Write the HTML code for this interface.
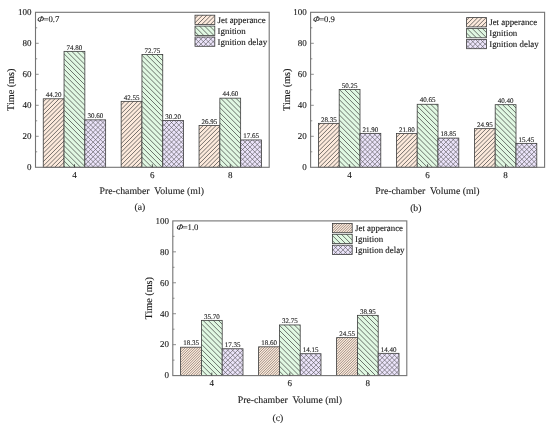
<!DOCTYPE html>
<html lang="en"><head><meta charset="utf-8"><title>Figure</title>
<style>html,body{margin:0;padding:0;background:#fff}svg{display:block}text{font-family:"Liberation Serif", "DejaVu Serif", serif;fill:#1a1a1a;text-rendering:geometricPrecision;stroke:#1a1a1a;stroke-width:0.11px}</style></head><body>
<svg width="550" height="428" viewBox="0 0 550 428">
<rect width="550" height="428" fill="#fff"/>
<defs><filter id="sb" x="-5%" y="-5%" width="110%" height="110%"><feGaussianBlur stdDeviation="0.3"/></filter></defs>
<g id="plot-a">
<rect x="43.25" y="98.79" width="20.80" height="68.51" fill="#fdeadc"/>
<clipPath id="c1"><rect x="43.25" y="98.79" width="20.80" height="68.51"/></clipPath><g clip-path="url(#c1)"><path d="M42.25 98.66L65.05 75.86M42.25 102.93L65.05 80.13M42.25 107.20L65.05 84.40M42.25 111.47L65.05 88.67M42.25 115.74L65.05 92.94M42.25 120.01L65.05 97.21M42.25 124.28L65.05 101.48M42.25 128.55L65.05 105.75M42.25 132.82L65.05 110.02M42.25 137.09L65.05 114.29M42.25 141.36L65.05 118.56M42.25 145.63L65.05 122.83M42.25 149.90L65.05 127.10M42.25 154.17L65.05 131.37M42.25 158.44L65.05 135.64M42.25 162.71L65.05 139.91M42.25 166.98L65.05 144.18M42.25 171.25L65.05 148.45M42.25 175.52L65.05 152.72M42.25 179.79L65.05 156.99M42.25 184.06L65.05 161.26M42.25 188.33L65.05 165.53M42.25 192.60L65.05 169.80" filter="url(#sb)" fill="none" stroke="#3e3e3e" stroke-width="0.72"/></g>
<rect x="43.25" y="98.79" width="20.80" height="68.51" fill="none" stroke="#3c3c3c" stroke-width="0.8"/>
<text x="53.65" y="96.99" font-size="7" text-anchor="middle">44.20</text>
<rect x="64.05" y="51.36" width="20.80" height="115.94" fill="#e0f8e2"/>
<clipPath id="c2"><rect x="64.05" y="51.36" width="20.80" height="115.94"/></clipPath><g clip-path="url(#c2)"><path d="M63.05 27.35L85.85 50.15M63.05 32.45L85.85 55.25M63.05 37.55L85.85 60.35M63.05 42.65L85.85 65.45M63.05 47.75L85.85 70.55M63.05 52.85L85.85 75.65M63.05 57.95L85.85 80.75M63.05 63.05L85.85 85.85M63.05 68.15L85.85 90.95M63.05 73.25L85.85 96.05M63.05 78.35L85.85 101.15M63.05 83.45L85.85 106.25M63.05 88.55L85.85 111.35M63.05 93.65L85.85 116.45M63.05 98.75L85.85 121.55M63.05 103.85L85.85 126.65M63.05 108.95L85.85 131.75M63.05 114.05L85.85 136.85M63.05 119.15L85.85 141.95M63.05 124.25L85.85 147.05M63.05 129.35L85.85 152.15M63.05 134.45L85.85 157.25M63.05 139.55L85.85 162.35M63.05 144.65L85.85 167.45M63.05 149.75L85.85 172.55M63.05 154.85L85.85 177.65M63.05 159.95L85.85 182.75M63.05 165.05L85.85 187.85M63.05 170.15L85.85 192.95" filter="url(#sb)" fill="none" stroke="#3e3e3e" stroke-width="0.72"/></g>
<rect x="64.05" y="51.36" width="20.80" height="115.94" fill="none" stroke="#3c3c3c" stroke-width="0.8"/>
<text x="74.45" y="49.56" font-size="7" text-anchor="middle">74.80</text>
<rect x="84.85" y="119.87" width="20.80" height="47.43" fill="#ebe3fa"/>
<clipPath id="c3"><rect x="84.85" y="119.87" width="20.80" height="47.43"/></clipPath><g clip-path="url(#c3)"><path d="M83.85 117.05L106.65 94.25M83.85 121.95L106.65 99.15M83.85 126.85L106.65 104.05M83.85 131.75L106.65 108.95M83.85 136.65L106.65 113.85M83.85 141.55L106.65 118.75M83.85 146.45L106.65 123.65M83.85 151.35L106.65 128.55M83.85 156.25L106.65 133.45M83.85 161.15L106.65 138.35M83.85 166.05L106.65 143.25M83.85 170.95L106.65 148.15M83.85 175.85L106.65 153.05M83.85 180.75L106.65 157.95M83.85 185.65L106.65 162.85M83.85 190.55L106.65 167.75M83.85 93.65L106.65 116.45M83.85 98.55L106.65 121.35M83.85 103.45L106.65 126.25M83.85 108.35L106.65 131.15M83.85 113.25L106.65 136.05M83.85 118.15L106.65 140.95M83.85 123.05L106.65 145.85M83.85 127.95L106.65 150.75M83.85 132.85L106.65 155.65M83.85 137.75L106.65 160.55M83.85 142.65L106.65 165.45M83.85 147.55L106.65 170.35M83.85 152.45L106.65 175.25M83.85 157.35L106.65 180.15M83.85 162.25L106.65 185.05M83.85 167.15L106.65 189.95" filter="url(#sb)" fill="none" stroke="#4c4c4c" stroke-width="0.58"/></g>
<rect x="84.85" y="119.87" width="20.80" height="47.43" fill="none" stroke="#3c3c3c" stroke-width="0.8"/>
<text x="95.25" y="118.07" font-size="7" text-anchor="middle">30.60</text>
<rect x="121.15" y="101.35" width="20.80" height="65.95" fill="#fdeadc"/>
<clipPath id="c4"><rect x="121.15" y="101.35" width="20.80" height="65.95"/></clipPath><g clip-path="url(#c4)"><path d="M120.15 101.89L142.95 79.09M120.15 106.16L142.95 83.36M120.15 110.43L142.95 87.63M120.15 114.70L142.95 91.90M120.15 118.97L142.95 96.17M120.15 123.24L142.95 100.44M120.15 127.51L142.95 104.71M120.15 131.78L142.95 108.98M120.15 136.05L142.95 113.25M120.15 140.32L142.95 117.52M120.15 144.59L142.95 121.79M120.15 148.86L142.95 126.06M120.15 153.13L142.95 130.33M120.15 157.40L142.95 134.60M120.15 161.67L142.95 138.87M120.15 165.94L142.95 143.14M120.15 170.21L142.95 147.41M120.15 174.48L142.95 151.68M120.15 178.75L142.95 155.95M120.15 183.02L142.95 160.22M120.15 187.29L142.95 164.49M120.15 191.56L142.95 168.76" filter="url(#sb)" fill="none" stroke="#3e3e3e" stroke-width="0.72"/></g>
<rect x="121.15" y="101.35" width="20.80" height="65.95" fill="none" stroke="#3c3c3c" stroke-width="0.8"/>
<text x="131.55" y="99.55" font-size="7" text-anchor="middle">42.55</text>
<rect x="141.95" y="54.54" width="20.80" height="112.76" fill="#e0f8e2"/>
<clipPath id="c5"><rect x="141.95" y="54.54" width="20.80" height="112.76"/></clipPath><g clip-path="url(#c5)"><path d="M140.95 28.75L163.75 51.55M140.95 33.85L163.75 56.65M140.95 38.95L163.75 61.75M140.95 44.05L163.75 66.85M140.95 49.15L163.75 71.95M140.95 54.25L163.75 77.05M140.95 59.35L163.75 82.15M140.95 64.45L163.75 87.25M140.95 69.55L163.75 92.35M140.95 74.65L163.75 97.45M140.95 79.75L163.75 102.55M140.95 84.85L163.75 107.65M140.95 89.95L163.75 112.75M140.95 95.05L163.75 117.85M140.95 100.15L163.75 122.95M140.95 105.25L163.75 128.05M140.95 110.35L163.75 133.15M140.95 115.45L163.75 138.25M140.95 120.55L163.75 143.35M140.95 125.65L163.75 148.45M140.95 130.75L163.75 153.55M140.95 135.85L163.75 158.65M140.95 140.95L163.75 163.75M140.95 146.05L163.75 168.85M140.95 151.15L163.75 173.95M140.95 156.25L163.75 179.05M140.95 161.35L163.75 184.15M140.95 166.45L163.75 189.25" filter="url(#sb)" fill="none" stroke="#3e3e3e" stroke-width="0.72"/></g>
<rect x="141.95" y="54.54" width="20.80" height="112.76" fill="none" stroke="#3c3c3c" stroke-width="0.8"/>
<text x="152.35" y="52.74" font-size="7" text-anchor="middle">72.75</text>
<rect x="162.75" y="120.49" width="20.80" height="46.81" fill="#ebe3fa"/>
<clipPath id="c6"><rect x="162.75" y="120.49" width="20.80" height="46.81"/></clipPath><g clip-path="url(#c6)"><path d="M161.75 117.55L184.55 94.75M161.75 122.45L184.55 99.65M161.75 127.35L184.55 104.55M161.75 132.25L184.55 109.45M161.75 137.15L184.55 114.35M161.75 142.05L184.55 119.25M161.75 146.95L184.55 124.15M161.75 151.85L184.55 129.05M161.75 156.75L184.55 133.95M161.75 161.65L184.55 138.85M161.75 166.55L184.55 143.75M161.75 171.45L184.55 148.65M161.75 176.35L184.55 153.55M161.75 181.25L184.55 158.45M161.75 186.15L184.55 163.35M161.75 191.05L184.55 168.25M161.75 98.05L184.55 120.85M161.75 102.95L184.55 125.75M161.75 107.85L184.55 130.65M161.75 112.75L184.55 135.55M161.75 117.65L184.55 140.45M161.75 122.55L184.55 145.35M161.75 127.45L184.55 150.25M161.75 132.35L184.55 155.15M161.75 137.25L184.55 160.05M161.75 142.15L184.55 164.95M161.75 147.05L184.55 169.85M161.75 151.95L184.55 174.75M161.75 156.85L184.55 179.65M161.75 161.75L184.55 184.55M161.75 166.65L184.55 189.45" filter="url(#sb)" fill="none" stroke="#4c4c4c" stroke-width="0.58"/></g>
<rect x="162.75" y="120.49" width="20.80" height="46.81" fill="none" stroke="#3c3c3c" stroke-width="0.8"/>
<text x="173.15" y="118.69" font-size="7" text-anchor="middle">30.20</text>
<rect x="199.05" y="125.53" width="20.80" height="41.77" fill="#fdeadc"/>
<clipPath id="c7"><rect x="199.05" y="125.53" width="20.80" height="41.77"/></clipPath><g clip-path="url(#c7)"><path d="M198.05 126.47L220.85 103.67M198.05 130.74L220.85 107.94M198.05 135.01L220.85 112.21M198.05 139.28L220.85 116.48M198.05 143.55L220.85 120.75M198.05 147.82L220.85 125.02M198.05 152.09L220.85 129.29M198.05 156.36L220.85 133.56M198.05 160.63L220.85 137.83M198.05 164.90L220.85 142.10M198.05 169.17L220.85 146.37M198.05 173.44L220.85 150.64M198.05 177.71L220.85 154.91M198.05 181.98L220.85 159.18M198.05 186.25L220.85 163.45M198.05 190.52L220.85 167.72" filter="url(#sb)" fill="none" stroke="#3e3e3e" stroke-width="0.72"/></g>
<rect x="199.05" y="125.53" width="20.80" height="41.77" fill="none" stroke="#3c3c3c" stroke-width="0.8"/>
<text x="209.45" y="123.73" font-size="7" text-anchor="middle">26.95</text>
<rect x="219.85" y="98.17" width="20.80" height="69.13" fill="#e0f8e2"/>
<clipPath id="c8"><rect x="219.85" y="98.17" width="20.80" height="69.13"/></clipPath><g clip-path="url(#c8)"><path d="M218.85 76.05L241.65 98.85M218.85 81.15L241.65 103.95M218.85 86.25L241.65 109.05M218.85 91.35L241.65 114.15M218.85 96.45L241.65 119.25M218.85 101.55L241.65 124.35M218.85 106.65L241.65 129.45M218.85 111.75L241.65 134.55M218.85 116.85L241.65 139.65M218.85 121.95L241.65 144.75M218.85 127.05L241.65 149.85M218.85 132.15L241.65 154.95M218.85 137.25L241.65 160.05M218.85 142.35L241.65 165.15M218.85 147.45L241.65 170.25M218.85 152.55L241.65 175.35M218.85 157.65L241.65 180.45M218.85 162.75L241.65 185.55M218.85 167.85L241.65 190.65" filter="url(#sb)" fill="none" stroke="#3e3e3e" stroke-width="0.72"/></g>
<rect x="219.85" y="98.17" width="20.80" height="69.13" fill="none" stroke="#3c3c3c" stroke-width="0.8"/>
<text x="230.25" y="96.37" font-size="7" text-anchor="middle">44.60</text>
<rect x="240.65" y="139.94" width="20.80" height="27.36" fill="#ebe3fa"/>
<clipPath id="c9"><rect x="240.65" y="139.94" width="20.80" height="27.36"/></clipPath><g clip-path="url(#c9)"><path d="M239.65 137.65L262.45 114.85M239.65 142.55L262.45 119.75M239.65 147.45L262.45 124.65M239.65 152.35L262.45 129.55M239.65 157.25L262.45 134.45M239.65 162.15L262.45 139.35M239.65 167.05L262.45 144.25M239.65 171.95L262.45 149.15M239.65 176.85L262.45 154.05M239.65 181.75L262.45 158.95M239.65 186.65L262.45 163.85M239.65 191.55L262.45 168.75M239.65 117.15L262.45 139.95M239.65 122.05L262.45 144.85M239.65 126.95L262.45 149.75M239.65 131.85L262.45 154.65M239.65 136.75L262.45 159.55M239.65 141.65L262.45 164.45M239.65 146.55L262.45 169.35M239.65 151.45L262.45 174.25M239.65 156.35L262.45 179.15M239.65 161.25L262.45 184.05M239.65 166.15L262.45 188.95M239.65 171.05L262.45 193.85" filter="url(#sb)" fill="none" stroke="#4c4c4c" stroke-width="0.58"/></g>
<rect x="240.65" y="139.94" width="20.80" height="27.36" fill="none" stroke="#3c3c3c" stroke-width="0.8"/>
<text x="251.05" y="138.14" font-size="7" text-anchor="middle">17.65</text>
<rect x="35.50" y="12.30" width="233.70" height="155.00" fill="none" stroke="#747474" stroke-width="1.1"/>
<text x="31.60" y="170.35" font-size="9" text-anchor="end">0</text>
<line x1="35.50" y1="151.80" x2="37.20" y2="151.80" stroke="#747474" stroke-width="0.8"/>
<line x1="35.50" y1="136.30" x2="38.70" y2="136.30" stroke="#747474" stroke-width="0.8"/>
<text x="31.60" y="139.35" font-size="9" text-anchor="end">20</text>
<line x1="35.50" y1="120.80" x2="37.20" y2="120.80" stroke="#747474" stroke-width="0.8"/>
<line x1="35.50" y1="105.30" x2="38.70" y2="105.30" stroke="#747474" stroke-width="0.8"/>
<text x="31.60" y="108.35" font-size="9" text-anchor="end">40</text>
<line x1="35.50" y1="89.80" x2="37.20" y2="89.80" stroke="#747474" stroke-width="0.8"/>
<line x1="35.50" y1="74.30" x2="38.70" y2="74.30" stroke="#747474" stroke-width="0.8"/>
<text x="31.60" y="77.35" font-size="9" text-anchor="end">60</text>
<line x1="35.50" y1="58.80" x2="37.20" y2="58.80" stroke="#747474" stroke-width="0.8"/>
<line x1="35.50" y1="43.30" x2="38.70" y2="43.30" stroke="#747474" stroke-width="0.8"/>
<text x="31.60" y="46.35" font-size="9" text-anchor="end">80</text>
<line x1="35.50" y1="27.80" x2="37.20" y2="27.80" stroke="#747474" stroke-width="0.8"/>
<text x="31.60" y="15.35" font-size="9" text-anchor="end">100</text>
<line x1="74.45" y1="167.30" x2="74.45" y2="164.30" stroke="#3a3a3a" stroke-width="0.9"/>
<text x="74.45" y="178.00" font-size="9" text-anchor="middle">4</text>
<line x1="152.35" y1="167.30" x2="152.35" y2="164.30" stroke="#3a3a3a" stroke-width="0.9"/>
<text x="152.35" y="178.00" font-size="9" text-anchor="middle">6</text>
<line x1="230.25" y1="167.30" x2="230.25" y2="164.30" stroke="#3a3a3a" stroke-width="0.9"/>
<text x="230.25" y="178.00" font-size="9" text-anchor="middle">8</text>
<text x="151.75" y="193.70" font-size="9.8" text-anchor="middle" xml:space="preserve">Pre-chamber  Volume (ml)</text>
<text transform="translate(14.00 89.80) rotate(-90)" font-size="10.2" text-anchor="middle">Time (ms)</text>
<text x="139.85" y="210.20" font-size="9.7" text-anchor="middle">(a)</text>
<text transform="translate(36.80 22.00) skewX(-12)" font-size="8.7" font-style="italic">Φ</text>
<text x="43.50" y="22.00" font-size="8.7">=0.7</text>
<rect x="195.00" y="15.20" width="19.8" height="9.3" fill="#fdeadc"/>
<clipPath id="c10"><rect x="195.00" y="15.20" width="19.80" height="9.30"/></clipPath><g clip-path="url(#c10)"><path d="M194.00 15.23L215.80 -6.57M194.00 19.50L215.80 -2.30M194.00 23.77L215.80 1.97M194.00 28.04L215.80 6.24M194.00 32.31L215.80 10.51M194.00 36.58L215.80 14.78M194.00 40.85L215.80 19.05M194.00 45.12L215.80 23.32M194.00 49.39L215.80 27.59" filter="url(#sb)" fill="none" stroke="#3e3e3e" stroke-width="0.72"/></g>
<rect x="195.00" y="15.20" width="19.8" height="9.3" fill="none" stroke="#3c3c3c" stroke-width="0.8"/>
<text x="217.60" y="22.80" font-size="8.9">Jet apperance</text>
<rect x="195.00" y="26.10" width="19.8" height="9.3" fill="#e0f8e2"/>
<clipPath id="c11"><rect x="195.00" y="26.10" width="19.80" height="9.30"/></clipPath><g clip-path="url(#c11)"><path d="M194.00 0.20L215.80 22.00M194.00 5.30L215.80 27.10M194.00 10.40L215.80 32.20M194.00 15.50L215.80 37.30M194.00 20.60L215.80 42.40M194.00 25.70L215.80 47.50M194.00 30.80L215.80 52.60M194.00 35.90L215.80 57.70" filter="url(#sb)" fill="none" stroke="#3e3e3e" stroke-width="0.72"/></g>
<rect x="195.00" y="26.10" width="19.8" height="9.3" fill="none" stroke="#3c3c3c" stroke-width="0.8"/>
<text x="217.60" y="33.70" font-size="8.9">Ignition</text>
<rect x="195.00" y="37.00" width="19.8" height="9.3" fill="#ebe3fa"/>
<clipPath id="c12"><rect x="195.00" y="37.00" width="19.80" height="9.30"/></clipPath><g clip-path="url(#c12)"><path d="M194.00 36.30L215.80 14.50M194.00 41.20L215.80 19.40M194.00 46.10L215.80 24.30M194.00 51.00L215.80 29.20M194.00 55.90L215.80 34.10M194.00 60.80L215.80 39.00M194.00 65.70L215.80 43.90M194.00 70.60L215.80 48.80M194.00 12.70L215.80 34.50M194.00 17.60L215.80 39.40M194.00 22.50L215.80 44.30M194.00 27.40L215.80 49.20M194.00 32.30L215.80 54.10M194.00 37.20L215.80 59.00M194.00 42.10L215.80 63.90M194.00 47.00L215.80 68.80" filter="url(#sb)" fill="none" stroke="#4c4c4c" stroke-width="0.58"/></g>
<rect x="195.00" y="37.00" width="19.8" height="9.3" fill="none" stroke="#3c3c3c" stroke-width="0.8"/>
<text x="217.60" y="44.60" font-size="8.9">Ignition delay</text>
</g>
<g id="plot-b">
<rect x="318.40" y="123.36" width="20.80" height="43.94" fill="#fdeadc"/>
<clipPath id="c13"><rect x="318.40" y="123.36" width="20.80" height="43.94"/></clipPath><g clip-path="url(#c13)"><path d="M317.40 122.41L340.20 99.61M317.40 126.68L340.20 103.88M317.40 130.95L340.20 108.15M317.40 135.22L340.20 112.42M317.40 139.49L340.20 116.69M317.40 143.76L340.20 120.96M317.40 148.03L340.20 125.23M317.40 152.30L340.20 129.50M317.40 156.57L340.20 133.77M317.40 160.84L340.20 138.04M317.40 165.11L340.20 142.31M317.40 169.38L340.20 146.58M317.40 173.65L340.20 150.85M317.40 177.92L340.20 155.12M317.40 182.19L340.20 159.39M317.40 186.46L340.20 163.66M317.40 190.73L340.20 167.93" filter="url(#sb)" fill="none" stroke="#3e3e3e" stroke-width="0.72"/></g>
<rect x="318.40" y="123.36" width="20.80" height="43.94" fill="none" stroke="#3c3c3c" stroke-width="0.8"/>
<text x="328.80" y="121.56" font-size="7" text-anchor="middle">28.35</text>
<rect x="339.20" y="89.41" width="20.80" height="77.89" fill="#e0f8e2"/>
<clipPath id="c14"><rect x="339.20" y="89.41" width="20.80" height="77.89"/></clipPath><g clip-path="url(#c14)"><path d="M338.20 62.80L361.00 85.60M338.20 67.90L361.00 90.70M338.20 73.00L361.00 95.80M338.20 78.10L361.00 100.90M338.20 83.20L361.00 106.00M338.20 88.30L361.00 111.10M338.20 93.40L361.00 116.20M338.20 98.50L361.00 121.30M338.20 103.60L361.00 126.40M338.20 108.70L361.00 131.50M338.20 113.80L361.00 136.60M338.20 118.90L361.00 141.70M338.20 124.00L361.00 146.80M338.20 129.10L361.00 151.90M338.20 134.20L361.00 157.00M338.20 139.30L361.00 162.10M338.20 144.40L361.00 167.20M338.20 149.50L361.00 172.30M338.20 154.60L361.00 177.40M338.20 159.70L361.00 182.50M338.20 164.80L361.00 187.60M338.20 169.90L361.00 192.70" filter="url(#sb)" fill="none" stroke="#3e3e3e" stroke-width="0.72"/></g>
<rect x="339.20" y="89.41" width="20.80" height="77.89" fill="none" stroke="#3c3c3c" stroke-width="0.8"/>
<text x="349.60" y="87.61" font-size="7" text-anchor="middle">50.25</text>
<rect x="360.00" y="133.36" width="20.80" height="33.94" fill="#ebe3fa"/>
<clipPath id="c15"><rect x="360.00" y="133.36" width="20.80" height="33.94"/></clipPath><g clip-path="url(#c15)"><path d="M359.00 131.00L381.80 108.20M359.00 135.90L381.80 113.10M359.00 140.80L381.80 118.00M359.00 145.70L381.80 122.90M359.00 150.60L381.80 127.80M359.00 155.50L381.80 132.70M359.00 160.40L381.80 137.60M359.00 165.30L381.80 142.50M359.00 170.20L381.80 147.40M359.00 175.10L381.80 152.30M359.00 180.00L381.80 157.20M359.00 184.90L381.80 162.10M359.00 189.80L381.80 167.00M359.00 109.10L381.80 131.90M359.00 114.00L381.80 136.80M359.00 118.90L381.80 141.70M359.00 123.80L381.80 146.60M359.00 128.70L381.80 151.50M359.00 133.60L381.80 156.40M359.00 138.50L381.80 161.30M359.00 143.40L381.80 166.20M359.00 148.30L381.80 171.10M359.00 153.20L381.80 176.00M359.00 158.10L381.80 180.90M359.00 163.00L381.80 185.80M359.00 167.90L381.80 190.70" filter="url(#sb)" fill="none" stroke="#4c4c4c" stroke-width="0.58"/></g>
<rect x="360.00" y="133.36" width="20.80" height="33.94" fill="none" stroke="#3c3c3c" stroke-width="0.8"/>
<text x="370.40" y="131.56" font-size="7" text-anchor="middle">21.90</text>
<rect x="396.40" y="133.51" width="20.80" height="33.79" fill="#fdeadc"/>
<clipPath id="c16"><rect x="396.40" y="133.51" width="20.80" height="33.79"/></clipPath><g clip-path="url(#c16)"><path d="M395.40 134.08L418.20 111.28M395.40 138.35L418.20 115.55M395.40 142.62L418.20 119.82M395.40 146.89L418.20 124.09M395.40 151.16L418.20 128.36M395.40 155.43L418.20 132.63M395.40 159.70L418.20 136.90M395.40 163.97L418.20 141.17M395.40 168.24L418.20 145.44M395.40 172.51L418.20 149.71M395.40 176.78L418.20 153.98M395.40 181.05L418.20 158.25M395.40 185.32L418.20 162.52M395.40 189.59L418.20 166.79" filter="url(#sb)" fill="none" stroke="#3e3e3e" stroke-width="0.72"/></g>
<rect x="396.40" y="133.51" width="20.80" height="33.79" fill="none" stroke="#3c3c3c" stroke-width="0.8"/>
<text x="406.80" y="131.71" font-size="7" text-anchor="middle">21.80</text>
<rect x="417.20" y="104.29" width="20.80" height="63.01" fill="#e0f8e2"/>
<clipPath id="c17"><rect x="417.20" y="104.29" width="20.80" height="63.01"/></clipPath><g clip-path="url(#c17)"><path d="M416.20 79.60L439.00 102.40M416.20 84.70L439.00 107.50M416.20 89.80L439.00 112.60M416.20 94.90L439.00 117.70M416.20 100.00L439.00 122.80M416.20 105.10L439.00 127.90M416.20 110.20L439.00 133.00M416.20 115.30L439.00 138.10M416.20 120.40L439.00 143.20M416.20 125.50L439.00 148.30M416.20 130.60L439.00 153.40M416.20 135.70L439.00 158.50M416.20 140.80L439.00 163.60M416.20 145.90L439.00 168.70M416.20 151.00L439.00 173.80M416.20 156.10L439.00 178.90M416.20 161.20L439.00 184.00M416.20 166.30L439.00 189.10" filter="url(#sb)" fill="none" stroke="#3e3e3e" stroke-width="0.72"/></g>
<rect x="417.20" y="104.29" width="20.80" height="63.01" fill="none" stroke="#3c3c3c" stroke-width="0.8"/>
<text x="427.60" y="102.49" font-size="7" text-anchor="middle">40.65</text>
<rect x="438.00" y="138.08" width="20.80" height="29.22" fill="#ebe3fa"/>
<clipPath id="c18"><rect x="438.00" y="138.08" width="20.80" height="29.22"/></clipPath><g clip-path="url(#c18)"><path d="M437.00 136.30L459.80 113.50M437.00 141.20L459.80 118.40M437.00 146.10L459.80 123.30M437.00 151.00L459.80 128.20M437.00 155.90L459.80 133.10M437.00 160.80L459.80 138.00M437.00 165.70L459.80 142.90M437.00 170.60L459.80 147.80M437.00 175.50L459.80 152.70M437.00 180.40L459.80 157.60M437.00 185.30L459.80 162.50M437.00 190.20L459.80 167.40M437.00 113.60L459.80 136.40M437.00 118.50L459.80 141.30M437.00 123.40L459.80 146.20M437.00 128.30L459.80 151.10M437.00 133.20L459.80 156.00M437.00 138.10L459.80 160.90M437.00 143.00L459.80 165.80M437.00 147.90L459.80 170.70M437.00 152.80L459.80 175.60M437.00 157.70L459.80 180.50M437.00 162.60L459.80 185.40M437.00 167.50L459.80 190.30" filter="url(#sb)" fill="none" stroke="#4c4c4c" stroke-width="0.58"/></g>
<rect x="438.00" y="138.08" width="20.80" height="29.22" fill="none" stroke="#3c3c3c" stroke-width="0.8"/>
<text x="448.40" y="136.28" font-size="7" text-anchor="middle">18.85</text>
<rect x="474.40" y="128.63" width="20.80" height="38.67" fill="#fdeadc"/>
<clipPath id="c19"><rect x="474.40" y="128.63" width="20.80" height="38.67"/></clipPath><g clip-path="url(#c19)"><path d="M473.40 128.67L496.20 105.87M473.40 132.94L496.20 110.14M473.40 137.21L496.20 114.41M473.40 141.48L496.20 118.68M473.40 145.75L496.20 122.95M473.40 150.02L496.20 127.22M473.40 154.29L496.20 131.49M473.40 158.56L496.20 135.76M473.40 162.83L496.20 140.03M473.40 167.10L496.20 144.30M473.40 171.37L496.20 148.57M473.40 175.64L496.20 152.84M473.40 179.91L496.20 157.11M473.40 184.18L496.20 161.38M473.40 188.45L496.20 165.65M473.40 192.72L496.20 169.92" filter="url(#sb)" fill="none" stroke="#3e3e3e" stroke-width="0.72"/></g>
<rect x="474.40" y="128.63" width="20.80" height="38.67" fill="none" stroke="#3c3c3c" stroke-width="0.8"/>
<text x="484.80" y="126.83" font-size="7" text-anchor="middle">24.95</text>
<rect x="495.20" y="104.68" width="20.80" height="62.62" fill="#e0f8e2"/>
<clipPath id="c20"><rect x="495.20" y="104.68" width="20.80" height="62.62"/></clipPath><g clip-path="url(#c20)"><path d="M494.20 81.10L517.00 103.90M494.20 86.20L517.00 109.00M494.20 91.30L517.00 114.10M494.20 96.40L517.00 119.20M494.20 101.50L517.00 124.30M494.20 106.60L517.00 129.40M494.20 111.70L517.00 134.50M494.20 116.80L517.00 139.60M494.20 121.90L517.00 144.70M494.20 127.00L517.00 149.80M494.20 132.10L517.00 154.90M494.20 137.20L517.00 160.00M494.20 142.30L517.00 165.10M494.20 147.40L517.00 170.20M494.20 152.50L517.00 175.30M494.20 157.60L517.00 180.40M494.20 162.70L517.00 185.50M494.20 167.80L517.00 190.60" filter="url(#sb)" fill="none" stroke="#3e3e3e" stroke-width="0.72"/></g>
<rect x="495.20" y="104.68" width="20.80" height="62.62" fill="none" stroke="#3c3c3c" stroke-width="0.8"/>
<text x="505.60" y="102.88" font-size="7" text-anchor="middle">40.40</text>
<rect x="516.00" y="143.35" width="20.80" height="23.95" fill="#ebe3fa"/>
<clipPath id="c21"><rect x="516.00" y="143.35" width="20.80" height="23.95"/></clipPath><g clip-path="url(#c21)"><path d="M515.00 141.60L537.80 118.80M515.00 146.50L537.80 123.70M515.00 151.40L537.80 128.60M515.00 156.30L537.80 133.50M515.00 161.20L537.80 138.40M515.00 166.10L537.80 143.30M515.00 171.00L537.80 148.20M515.00 175.90L537.80 153.10M515.00 180.80L537.80 158.00M515.00 185.70L537.80 162.90M515.00 190.60L537.80 167.80M515.00 118.10L537.80 140.90M515.00 123.00L537.80 145.80M515.00 127.90L537.80 150.70M515.00 132.80L537.80 155.60M515.00 137.70L537.80 160.50M515.00 142.60L537.80 165.40M515.00 147.50L537.80 170.30M515.00 152.40L537.80 175.20M515.00 157.30L537.80 180.10M515.00 162.20L537.80 185.00M515.00 167.10L537.80 189.90" filter="url(#sb)" fill="none" stroke="#4c4c4c" stroke-width="0.58"/></g>
<rect x="516.00" y="143.35" width="20.80" height="23.95" fill="none" stroke="#3c3c3c" stroke-width="0.8"/>
<text x="526.40" y="141.55" font-size="7" text-anchor="middle">15.45</text>
<rect x="310.60" y="12.30" width="234.00" height="155.00" fill="none" stroke="#747474" stroke-width="1.1"/>
<text x="306.70" y="170.35" font-size="9" text-anchor="end">0</text>
<line x1="310.60" y1="151.80" x2="312.30" y2="151.80" stroke="#747474" stroke-width="0.8"/>
<line x1="310.60" y1="136.30" x2="313.80" y2="136.30" stroke="#747474" stroke-width="0.8"/>
<text x="306.70" y="139.35" font-size="9" text-anchor="end">20</text>
<line x1="310.60" y1="120.80" x2="312.30" y2="120.80" stroke="#747474" stroke-width="0.8"/>
<line x1="310.60" y1="105.30" x2="313.80" y2="105.30" stroke="#747474" stroke-width="0.8"/>
<text x="306.70" y="108.35" font-size="9" text-anchor="end">40</text>
<line x1="310.60" y1="89.80" x2="312.30" y2="89.80" stroke="#747474" stroke-width="0.8"/>
<line x1="310.60" y1="74.30" x2="313.80" y2="74.30" stroke="#747474" stroke-width="0.8"/>
<text x="306.70" y="77.35" font-size="9" text-anchor="end">60</text>
<line x1="310.60" y1="58.80" x2="312.30" y2="58.80" stroke="#747474" stroke-width="0.8"/>
<line x1="310.60" y1="43.30" x2="313.80" y2="43.30" stroke="#747474" stroke-width="0.8"/>
<text x="306.70" y="46.35" font-size="9" text-anchor="end">80</text>
<line x1="310.60" y1="27.80" x2="312.30" y2="27.80" stroke="#747474" stroke-width="0.8"/>
<text x="306.70" y="15.35" font-size="9" text-anchor="end">100</text>
<line x1="349.60" y1="167.30" x2="349.60" y2="164.30" stroke="#3a3a3a" stroke-width="0.9"/>
<text x="349.60" y="178.00" font-size="9" text-anchor="middle">4</text>
<line x1="427.60" y1="167.30" x2="427.60" y2="164.30" stroke="#3a3a3a" stroke-width="0.9"/>
<text x="427.60" y="178.00" font-size="9" text-anchor="middle">6</text>
<line x1="505.60" y1="167.30" x2="505.60" y2="164.30" stroke="#3a3a3a" stroke-width="0.9"/>
<text x="505.60" y="178.00" font-size="9" text-anchor="middle">8</text>
<text x="427.40" y="193.70" font-size="9.8" text-anchor="middle" xml:space="preserve">Pre-chamber  Volume (ml)</text>
<text transform="translate(289.60 89.80) rotate(-90)" font-size="10.2" text-anchor="middle">Time (ms)</text>
<text x="415.80" y="211.10" font-size="9.7" text-anchor="middle">(b)</text>
<text transform="translate(312.50 21.70) skewX(-12)" font-size="8.7" font-style="italic">Φ</text>
<text x="319.20" y="21.70" font-size="8.7">=0.9</text>
<rect x="466.60" y="17.60" width="19.8" height="9.3" fill="#fdeadc"/>
<clipPath id="c22"><rect x="466.60" y="17.60" width="19.80" height="9.30"/></clipPath><g clip-path="url(#c22)"><path d="M465.60 16.91L487.40 -4.89M465.60 21.18L487.40 -0.62M465.60 25.45L487.40 3.65M465.60 29.72L487.40 7.92M465.60 33.99L487.40 12.19M465.60 38.26L487.40 16.46M465.60 42.53L487.40 20.73M465.60 46.80L487.40 25.00M465.60 51.07L487.40 29.27" filter="url(#sb)" fill="none" stroke="#3e3e3e" stroke-width="0.72"/></g>
<rect x="466.60" y="17.60" width="19.8" height="9.3" fill="none" stroke="#3c3c3c" stroke-width="0.8"/>
<text x="489.20" y="25.20" font-size="8.9">Jet apperance</text>
<rect x="466.60" y="28.50" width="19.8" height="9.3" fill="#e0f8e2"/>
<clipPath id="c23"><rect x="466.60" y="28.50" width="19.80" height="9.30"/></clipPath><g clip-path="url(#c23)"><path d="M465.60 6.60L487.40 28.40M465.60 11.70L487.40 33.50M465.60 16.80L487.40 38.60M465.60 21.90L487.40 43.70M465.60 27.00L487.40 48.80M465.60 32.10L487.40 53.90M465.60 37.20L487.40 59.00" filter="url(#sb)" fill="none" stroke="#3e3e3e" stroke-width="0.72"/></g>
<rect x="466.60" y="28.50" width="19.8" height="9.3" fill="none" stroke="#3c3c3c" stroke-width="0.8"/>
<text x="489.20" y="36.10" font-size="8.9">Ignition</text>
<rect x="466.60" y="39.40" width="19.8" height="9.3" fill="#ebe3fa"/>
<clipPath id="c24"><rect x="466.60" y="39.40" width="19.80" height="9.30"/></clipPath><g clip-path="url(#c24)"><path d="M465.60 39.10L487.40 17.30M465.60 44.00L487.40 22.20M465.60 48.90L487.40 27.10M465.60 53.80L487.40 32.00M465.60 58.70L487.40 36.90M465.60 63.60L487.40 41.80M465.60 68.50L487.40 46.70M465.60 73.40L487.40 51.60M465.60 14.80L487.40 36.60M465.60 19.70L487.40 41.50M465.60 24.60L487.40 46.40M465.60 29.50L487.40 51.30M465.60 34.40L487.40 56.20M465.60 39.30L487.40 61.10M465.60 44.20L487.40 66.00M465.60 49.10L487.40 70.90" filter="url(#sb)" fill="none" stroke="#4c4c4c" stroke-width="0.58"/></g>
<rect x="466.60" y="39.40" width="19.8" height="9.3" fill="none" stroke="#3c3c3c" stroke-width="0.8"/>
<text x="489.20" y="47.00" font-size="8.9">Ignition delay</text>
</g>
<g id="plot-c">
<rect x="180.60" y="347.21" width="20.80" height="28.39" fill="#fdeadc"/>
<clipPath id="c25"><rect x="180.60" y="347.21" width="20.80" height="28.39"/></clipPath><g clip-path="url(#c25)"><path d="M179.60 345.70L202.40 322.90M179.60 348.25L202.40 325.45M179.60 350.80L202.40 328.00M179.60 353.35L202.40 330.55M179.60 355.90L202.40 333.10M179.60 358.45L202.40 335.65M179.60 361.00L202.40 338.20M179.60 363.55L202.40 340.75M179.60 366.10L202.40 343.30M179.60 368.65L202.40 345.85M179.60 371.20L202.40 348.40M179.60 373.75L202.40 350.95M179.60 376.30L202.40 353.50M179.60 378.85L202.40 356.05M179.60 381.40L202.40 358.60M179.60 383.95L202.40 361.15M179.60 386.50L202.40 363.70M179.60 389.05L202.40 366.25M179.60 391.60L202.40 368.80M179.60 394.15L202.40 371.35M179.60 396.70L202.40 373.90M179.60 399.25L202.40 376.45" filter="url(#sb)" fill="none" stroke="#5e544b" stroke-width="0.60"/></g>
<rect x="180.60" y="347.21" width="20.80" height="28.39" fill="none" stroke="#3c3c3c" stroke-width="0.8"/>
<text x="191.00" y="345.41" font-size="7" text-anchor="middle">18.35</text>
<rect x="201.40" y="320.37" width="20.80" height="55.23" fill="#e0f8e2"/>
<clipPath id="c26"><rect x="201.40" y="320.37" width="20.80" height="55.23"/></clipPath><g clip-path="url(#c26)"><path d="M200.40 297.30L223.20 320.10M200.40 302.40L223.20 325.20M200.40 307.50L223.20 330.30M200.40 312.60L223.20 335.40M200.40 317.70L223.20 340.50M200.40 322.80L223.20 345.60M200.40 327.90L223.20 350.70M200.40 333.00L223.20 355.80M200.40 338.10L223.20 360.90M200.40 343.20L223.20 366.00M200.40 348.30L223.20 371.10M200.40 353.40L223.20 376.20M200.40 358.50L223.20 381.30M200.40 363.60L223.20 386.40M200.40 368.70L223.20 391.50M200.40 373.80L223.20 396.60M200.40 378.90L223.20 401.70" filter="url(#sb)" fill="none" stroke="#3e3e3e" stroke-width="0.72"/></g>
<rect x="201.40" y="320.37" width="20.80" height="55.23" fill="none" stroke="#3c3c3c" stroke-width="0.8"/>
<text x="211.80" y="318.57" font-size="7" text-anchor="middle">35.70</text>
<rect x="222.20" y="348.76" width="20.80" height="26.84" fill="#ebe3fa"/>
<clipPath id="c27"><rect x="222.20" y="348.76" width="20.80" height="26.84"/></clipPath><g clip-path="url(#c27)"><path d="M221.20 347.20L244.00 324.40M221.20 352.10L244.00 329.30M221.20 357.00L244.00 334.20M221.20 361.90L244.00 339.10M221.20 366.80L244.00 344.00M221.20 371.70L244.00 348.90M221.20 376.60L244.00 353.80M221.20 381.50L244.00 358.70M221.20 386.40L244.00 363.60M221.20 391.30L244.00 368.50M221.20 396.20L244.00 373.40M221.20 401.10L244.00 378.30M221.20 324.10L244.00 346.90M221.20 329.00L244.00 351.80M221.20 333.90L244.00 356.70M221.20 338.80L244.00 361.60M221.20 343.70L244.00 366.50M221.20 348.60L244.00 371.40M221.20 353.50L244.00 376.30M221.20 358.40L244.00 381.20M221.20 363.30L244.00 386.10M221.20 368.20L244.00 391.00M221.20 373.10L244.00 395.90M221.20 378.00L244.00 400.80" filter="url(#sb)" fill="none" stroke="#4c4c4c" stroke-width="0.58"/></g>
<rect x="222.20" y="348.76" width="20.80" height="26.84" fill="none" stroke="#3c3c3c" stroke-width="0.8"/>
<text x="232.60" y="346.96" font-size="7" text-anchor="middle">17.35</text>
<rect x="258.60" y="346.83" width="20.80" height="28.77" fill="#fdeadc"/>
<clipPath id="c28"><rect x="258.60" y="346.83" width="20.80" height="28.77"/></clipPath><g clip-path="url(#c28)"><path d="M257.60 346.75L280.40 323.95M257.60 349.30L280.40 326.50M257.60 351.85L280.40 329.05M257.60 354.40L280.40 331.60M257.60 356.95L280.40 334.15M257.60 359.50L280.40 336.70M257.60 362.05L280.40 339.25M257.60 364.60L280.40 341.80M257.60 367.15L280.40 344.35M257.60 369.70L280.40 346.90M257.60 372.25L280.40 349.45M257.60 374.80L280.40 352.00M257.60 377.35L280.40 354.55M257.60 379.90L280.40 357.10M257.60 382.45L280.40 359.65M257.60 385.00L280.40 362.20M257.60 387.55L280.40 364.75M257.60 390.10L280.40 367.30M257.60 392.65L280.40 369.85M257.60 395.20L280.40 372.40M257.60 397.75L280.40 374.95" filter="url(#sb)" fill="none" stroke="#5e544b" stroke-width="0.60"/></g>
<rect x="258.60" y="346.83" width="20.80" height="28.77" fill="none" stroke="#3c3c3c" stroke-width="0.8"/>
<text x="269.00" y="345.03" font-size="7" text-anchor="middle">18.60</text>
<rect x="279.40" y="324.94" width="20.80" height="50.66" fill="#e0f8e2"/>
<clipPath id="c29"><rect x="279.40" y="324.94" width="20.80" height="50.66"/></clipPath><g clip-path="url(#c29)"><path d="M278.40 298.80L301.20 321.60M278.40 303.90L301.20 326.70M278.40 309.00L301.20 331.80M278.40 314.10L301.20 336.90M278.40 319.20L301.20 342.00M278.40 324.30L301.20 347.10M278.40 329.40L301.20 352.20M278.40 334.50L301.20 357.30M278.40 339.60L301.20 362.40M278.40 344.70L301.20 367.50M278.40 349.80L301.20 372.60M278.40 354.90L301.20 377.70M278.40 360.00L301.20 382.80M278.40 365.10L301.20 387.90M278.40 370.20L301.20 393.00M278.40 375.30L301.20 398.10" filter="url(#sb)" fill="none" stroke="#3e3e3e" stroke-width="0.72"/></g>
<rect x="279.40" y="324.94" width="20.80" height="50.66" fill="none" stroke="#3c3c3c" stroke-width="0.8"/>
<text x="289.80" y="323.14" font-size="7" text-anchor="middle">32.75</text>
<rect x="300.20" y="353.71" width="20.80" height="21.89" fill="#ebe3fa"/>
<clipPath id="c30"><rect x="300.20" y="353.71" width="20.80" height="21.89"/></clipPath><g clip-path="url(#c30)"><path d="M299.20 352.50L322.00 329.70M299.20 357.40L322.00 334.60M299.20 362.30L322.00 339.50M299.20 367.20L322.00 344.40M299.20 372.10L322.00 349.30M299.20 377.00L322.00 354.20M299.20 381.90L322.00 359.10M299.20 386.80L322.00 364.00M299.20 391.70L322.00 368.90M299.20 396.60L322.00 373.80M299.20 401.50L322.00 378.70M299.20 328.60L322.00 351.40M299.20 333.50L322.00 356.30M299.20 338.40L322.00 361.20M299.20 343.30L322.00 366.10M299.20 348.20L322.00 371.00M299.20 353.10L322.00 375.90M299.20 358.00L322.00 380.80M299.20 362.90L322.00 385.70M299.20 367.80L322.00 390.60M299.20 372.70L322.00 395.50M299.20 377.60L322.00 400.40" filter="url(#sb)" fill="none" stroke="#4c4c4c" stroke-width="0.58"/></g>
<rect x="300.20" y="353.71" width="20.80" height="21.89" fill="none" stroke="#3c3c3c" stroke-width="0.8"/>
<text x="310.60" y="351.91" font-size="7" text-anchor="middle">14.15</text>
<rect x="336.60" y="337.62" width="20.80" height="37.98" fill="#fdeadc"/>
<clipPath id="c31"><rect x="336.60" y="337.62" width="20.80" height="37.98"/></clipPath><g clip-path="url(#c31)"><path d="M335.60 337.60L358.40 314.80M335.60 340.15L358.40 317.35M335.60 342.70L358.40 319.90M335.60 345.25L358.40 322.45M335.60 347.80L358.40 325.00M335.60 350.35L358.40 327.55M335.60 352.90L358.40 330.10M335.60 355.45L358.40 332.65M335.60 358.00L358.40 335.20M335.60 360.55L358.40 337.75M335.60 363.10L358.40 340.30M335.60 365.65L358.40 342.85M335.60 368.20L358.40 345.40M335.60 370.75L358.40 347.95M335.60 373.30L358.40 350.50M335.60 375.85L358.40 353.05M335.60 378.40L358.40 355.60M335.60 380.95L358.40 358.15M335.60 383.50L358.40 360.70M335.60 386.05L358.40 363.25M335.60 388.60L358.40 365.80M335.60 391.15L358.40 368.35M335.60 393.70L358.40 370.90M335.60 396.25L358.40 373.45M335.60 398.80L358.40 376.00" filter="url(#sb)" fill="none" stroke="#5e544b" stroke-width="0.60"/></g>
<rect x="336.60" y="337.62" width="20.80" height="37.98" fill="none" stroke="#3c3c3c" stroke-width="0.8"/>
<text x="347.00" y="335.82" font-size="7" text-anchor="middle">24.55</text>
<rect x="357.40" y="315.34" width="20.80" height="60.26" fill="#e0f8e2"/>
<clipPath id="c32"><rect x="357.40" y="315.34" width="20.80" height="60.26"/></clipPath><g clip-path="url(#c32)"><path d="M356.40 290.10L379.20 312.90M356.40 295.20L379.20 318.00M356.40 300.30L379.20 323.10M356.40 305.40L379.20 328.20M356.40 310.50L379.20 333.30M356.40 315.60L379.20 338.40M356.40 320.70L379.20 343.50M356.40 325.80L379.20 348.60M356.40 330.90L379.20 353.70M356.40 336.00L379.20 358.80M356.40 341.10L379.20 363.90M356.40 346.20L379.20 369.00M356.40 351.30L379.20 374.10M356.40 356.40L379.20 379.20M356.40 361.50L379.20 384.30M356.40 366.60L379.20 389.40M356.40 371.70L379.20 394.50M356.40 376.80L379.20 399.60" filter="url(#sb)" fill="none" stroke="#3e3e3e" stroke-width="0.72"/></g>
<rect x="357.40" y="315.34" width="20.80" height="60.26" fill="none" stroke="#3c3c3c" stroke-width="0.8"/>
<text x="367.80" y="313.54" font-size="7" text-anchor="middle">38.95</text>
<rect x="378.20" y="353.32" width="20.80" height="22.28" fill="#ebe3fa"/>
<clipPath id="c33"><rect x="378.20" y="353.32" width="20.80" height="22.28"/></clipPath><g clip-path="url(#c33)"><path d="M377.20 352.90L400.00 330.10M377.20 357.80L400.00 335.00M377.20 362.70L400.00 339.90M377.20 367.60L400.00 344.80M377.20 372.50L400.00 349.70M377.20 377.40L400.00 354.60M377.20 382.30L400.00 359.50M377.20 387.20L400.00 364.40M377.20 392.10L400.00 369.30M377.20 397.00L400.00 374.20M377.20 401.90L400.00 379.10M377.20 328.20L400.00 351.00M377.20 333.10L400.00 355.90M377.20 338.00L400.00 360.80M377.20 342.90L400.00 365.70M377.20 347.80L400.00 370.60M377.20 352.70L400.00 375.50M377.20 357.60L400.00 380.40M377.20 362.50L400.00 385.30M377.20 367.40L400.00 390.20M377.20 372.30L400.00 395.10M377.20 377.20L400.00 400.00" filter="url(#sb)" fill="none" stroke="#4c4c4c" stroke-width="0.58"/></g>
<rect x="378.20" y="353.32" width="20.80" height="22.28" fill="none" stroke="#3c3c3c" stroke-width="0.8"/>
<text x="388.60" y="351.52" font-size="7" text-anchor="middle">14.40</text>
<rect x="172.80" y="220.90" width="234.00" height="154.70" fill="none" stroke="#747474" stroke-width="1.1"/>
<text x="168.90" y="378.40" font-size="9" text-anchor="end">0</text>
<line x1="172.80" y1="360.13" x2="174.50" y2="360.13" stroke="#747474" stroke-width="0.8"/>
<line x1="172.80" y1="344.66" x2="176.00" y2="344.66" stroke="#747474" stroke-width="0.8"/>
<text x="168.90" y="347.46" font-size="9" text-anchor="end">20</text>
<line x1="172.80" y1="329.19" x2="174.50" y2="329.19" stroke="#747474" stroke-width="0.8"/>
<line x1="172.80" y1="313.72" x2="176.00" y2="313.72" stroke="#747474" stroke-width="0.8"/>
<text x="168.90" y="316.52" font-size="9" text-anchor="end">40</text>
<line x1="172.80" y1="298.25" x2="174.50" y2="298.25" stroke="#747474" stroke-width="0.8"/>
<line x1="172.80" y1="282.78" x2="176.00" y2="282.78" stroke="#747474" stroke-width="0.8"/>
<text x="168.90" y="285.58" font-size="9" text-anchor="end">60</text>
<line x1="172.80" y1="267.31" x2="174.50" y2="267.31" stroke="#747474" stroke-width="0.8"/>
<line x1="172.80" y1="251.84" x2="176.00" y2="251.84" stroke="#747474" stroke-width="0.8"/>
<text x="168.90" y="254.64" font-size="9" text-anchor="end">80</text>
<line x1="172.80" y1="236.37" x2="174.50" y2="236.37" stroke="#747474" stroke-width="0.8"/>
<text x="168.90" y="223.70" font-size="9" text-anchor="end">100</text>
<line x1="211.80" y1="375.60" x2="211.80" y2="372.60" stroke="#3a3a3a" stroke-width="0.9"/>
<text x="211.80" y="386.30" font-size="9" text-anchor="middle">4</text>
<line x1="289.80" y1="375.60" x2="289.80" y2="372.60" stroke="#3a3a3a" stroke-width="0.9"/>
<text x="289.80" y="386.30" font-size="9" text-anchor="middle">6</text>
<line x1="367.80" y1="375.60" x2="367.80" y2="372.60" stroke="#3a3a3a" stroke-width="0.9"/>
<text x="367.80" y="386.30" font-size="9" text-anchor="middle">8</text>
<text x="289.90" y="402.50" font-size="9.8" text-anchor="middle" xml:space="preserve">Pre-chamber  Volume (ml)</text>
<text transform="translate(152.20 298.25) rotate(-90)" font-size="10.2" text-anchor="middle">Time (ms)</text>
<text x="277.80" y="420.70" font-size="9.7" text-anchor="middle">(c)</text>
<text transform="translate(176.00 229.60) skewX(-12)" font-size="8.7" font-style="italic">Φ</text>
<text x="182.70" y="229.60" font-size="8.7">=1.0</text>
<rect x="332.40" y="223.40" width="19.8" height="9.3" fill="#fdeadc"/>
<clipPath id="c34"><rect x="332.40" y="223.40" width="19.80" height="9.30"/></clipPath><g clip-path="url(#c34)"><path d="M331.40 221.95L353.20 200.15M331.40 224.50L353.20 202.70M331.40 227.05L353.20 205.25M331.40 229.60L353.20 207.80M331.40 232.15L353.20 210.35M331.40 234.70L353.20 212.90M331.40 237.25L353.20 215.45M331.40 239.80L353.20 218.00M331.40 242.35L353.20 220.55M331.40 244.90L353.20 223.10M331.40 247.45L353.20 225.65M331.40 250.00L353.20 228.20M331.40 252.55L353.20 230.75M331.40 255.10L353.20 233.30" filter="url(#sb)" fill="none" stroke="#5e544b" stroke-width="0.60"/></g>
<rect x="332.40" y="223.40" width="19.8" height="9.3" fill="none" stroke="#3c3c3c" stroke-width="0.8"/>
<text x="355.00" y="231.00" font-size="8.9">Jet apperance</text>
<rect x="332.40" y="234.30" width="19.8" height="9.3" fill="#e0f8e2"/>
<clipPath id="c35"><rect x="332.40" y="234.30" width="19.80" height="9.30"/></clipPath><g clip-path="url(#c35)"><path d="M331.40 209.00L353.20 230.80M331.40 214.10L353.20 235.90M331.40 219.20L353.20 241.00M331.40 224.30L353.20 246.10M331.40 229.40L353.20 251.20M331.40 234.50L353.20 256.30M331.40 239.60L353.20 261.40M331.40 244.70L353.20 266.50" filter="url(#sb)" fill="none" stroke="#3e3e3e" stroke-width="0.72"/></g>
<rect x="332.40" y="234.30" width="19.8" height="9.3" fill="none" stroke="#3c3c3c" stroke-width="0.8"/>
<text x="355.00" y="241.90" font-size="8.9">Ignition</text>
<rect x="332.40" y="245.20" width="19.8" height="9.3" fill="#ebe3fa"/>
<clipPath id="c36"><rect x="332.40" y="245.20" width="19.80" height="9.30"/></clipPath><g clip-path="url(#c36)"><path d="M331.40 241.90L353.20 220.10M331.40 246.80L353.20 225.00M331.40 251.70L353.20 229.90M331.40 256.60L353.20 234.80M331.40 261.50L353.20 239.70M331.40 266.40L353.20 244.60M331.40 271.30L353.20 249.50M331.40 276.20L353.20 254.40M331.40 223.60L353.20 245.40M331.40 228.50L353.20 250.30M331.40 233.40L353.20 255.20M331.40 238.30L353.20 260.10M331.40 243.20L353.20 265.00M331.40 248.10L353.20 269.90M331.40 253.00L353.20 274.80M331.40 257.90L353.20 279.70" filter="url(#sb)" fill="none" stroke="#4c4c4c" stroke-width="0.58"/></g>
<rect x="332.40" y="245.20" width="19.8" height="9.3" fill="none" stroke="#3c3c3c" stroke-width="0.8"/>
<text x="355.00" y="252.80" font-size="8.9">Ignition delay</text>
</g>
</svg></body></html>
